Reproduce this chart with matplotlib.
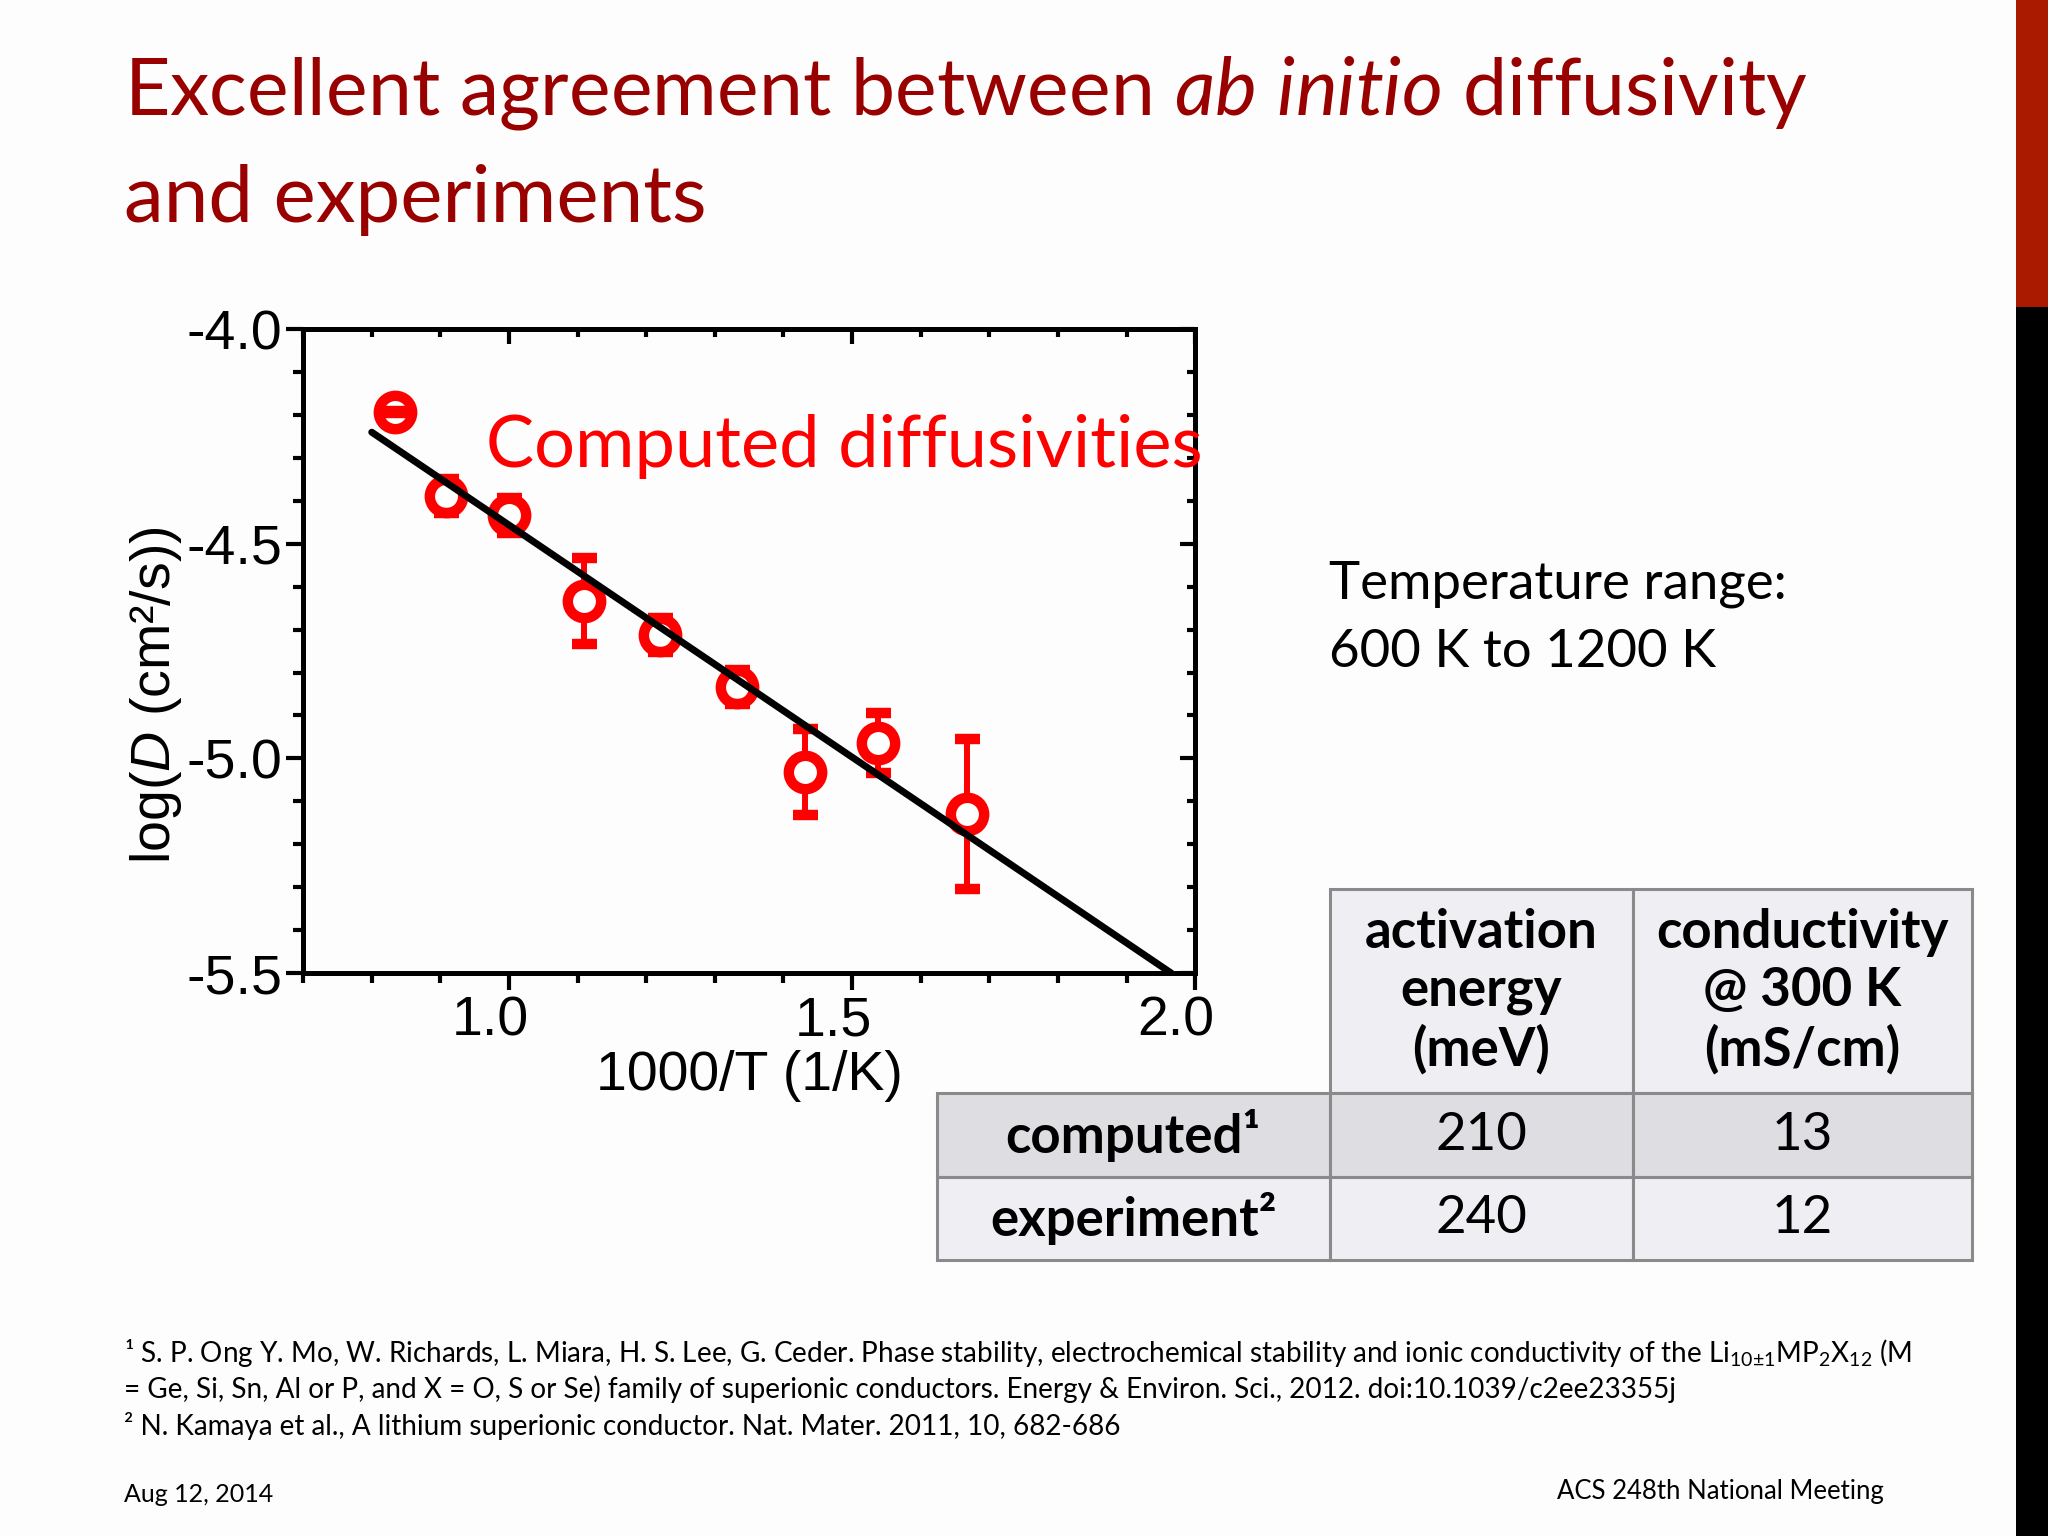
import matplotlib
matplotlib.use('Agg')
import matplotlib.pyplot as plt
from matplotlib.ticker import MultipleLocator, FormatStrFormatter
from matplotlib.patches import Rectangle
from matplotlib.transforms import ScaledTranslation

plt.rcParams['axes.unicode_minus'] = False
plt.rcParams['mathtext.fontset'] = 'custom'
plt.rcParams['mathtext.rm'] = 'Lato'
plt.rcParams['mathtext.it'] = 'Lato:italic'
plt.rcParams['mathtext.bf'] = 'Lato:bold'
plt.rcParams['mathtext.cal'] = 'Liberation Sans:italic'   # italic D in the y label

# values
inv_T = [0.834, 0.908, 1.000, 1.109, 1.220, 1.332, 1.431, 1.538, 1.668]      # 1000/T (1/K)
log_D = [-4.193, -4.388, -4.434, -4.634, -4.713, -4.834, -5.032, -4.965, -5.129]
log_D_err = [0.003, 0.04, 0.04, 0.10, 0.04, 0.04, 0.10, 0.07, 0.175]
fit_x = [0.80, 1.965]
fit_y = [-4.24, -5.50]

col_labels = ['', 'activation\nenergy\n(meV)', 'conductivity\n@ 300 K\n(mS/cm)']
row_labels = ['computed¹', 'experiment²']
act_energy = ['210', '240']
conductivity = ['13', '12']

bg = '#fdfdfd'
fig = plt.figure(figsize=(20.48, 15.36), dpi=100, facecolor=bg)

# ---- Arrhenius plot
ax = fig.add_axes([0.148, 0.3665, 0.4356, 0.4192], facecolor=bg)
line, caps, bars = ax.errorbar(inv_T, log_D, yerr=log_D_err, fmt='o', color='#ff0000',
                               ms=24, mew=7.5, mfc='white', mec='#ff0000',
                               elinewidth=4.3, capsize=9, capthick=4.5, zorder=3)
for c in caps:
    c.set_zorder(3.5)          # caps sit on top of the open circles
ax.plot(fit_x, fit_y, '-', c='black', lw=5, solid_capstyle='round', zorder=4)
ax.text(0.966, -4.32, 'Computed diffusivities', family='Lato', fontsize=52,
        color='#ff0000', va='baseline', ha='left')

ax.set_xlim(0.7, 2.0)
ax.set_ylim(-5.5, -4.0)
ax.xaxis.set_major_locator(MultipleLocator(0.5))
ax.xaxis.set_minor_locator(MultipleLocator(0.1))
ax.yaxis.set_major_locator(MultipleLocator(0.5))
ax.yaxis.set_minor_locator(MultipleLocator(0.1))
ax.xaxis.set_major_formatter(FormatStrFormatter('%.1f'))
ax.yaxis.set_major_formatter(FormatStrFormatter('%.1f'))
for s in ax.spines.values():
    s.set_linewidth(3.6)
ax.tick_params(which='both', direction='out', width=3, labelsize=40)
ax.tick_params(which='major', length=12)
ax.tick_params(which='minor', length=7)
ax.tick_params(axis='x', pad=4)
ax.tick_params(axis='y', pad=3)
shift = ScaledTranslation(-0.19, 0, fig.dpi_scale_trans)
for lab in ax.get_xticklabels():
    lab.set_family('Liberation Sans')
    lab.set_transform(lab.get_transform() + shift)
for lab in ax.get_yticklabels():
    lab.set_family('Liberation Sans')

# top / right ticks point inwards
top = ax.secondary_xaxis('top')
right = ax.secondary_yaxis('right')
for sec, side in [(top, 'top'), (right, 'right')]:
    axis = sec.xaxis if side == 'top' else sec.yaxis
    axis.set_major_locator(MultipleLocator(0.5))
    axis.set_minor_locator(MultipleLocator(0.1))
    sec.tick_params(which='both', direction='in', width=3,
                    labeltop=False, labelright=False)
    sec.tick_params(which='major', length=11)
    sec.tick_params(which='minor', length=6)
    sec.spines[side].set_linewidth(3.6)

ax.set_xlabel('1000/T (1/K)', family='Liberation Sans', fontsize=40, labelpad=2)
ax.set_ylabel('log($\\mathcal{D}$ (cm²/s))', family='Liberation Sans', fontsize=40)
ax.yaxis.set_label_coords(-0.133, 0.432)

# ---- comparison table
tax = fig.add_axes([0.4573, 0.1794, 0.5057, 0.2415])
tax.axis('off')
cell_text = [col_labels] + [[r, a, c] for r, a, c in zip(row_labels, act_energy, conductivity)]
tab = tax.table(cellText=cell_text, cellLoc='center', bbox=[0, 0, 1, 1],
                colWidths=[301, 232, 260])
tab.auto_set_font_size(False)
tab.set_fontsize(38)
row_h = [156, 64, 64]
fills = ['#efeef3', '#dedde2', '#efeef3']
for (r, c), cell in tab.get_celld().items():
    cell.set_height(row_h[r])
    cell.set_edgecolor('#8a8a8a')
    cell.set_linewidth(2.2)
    cell.set_facecolor(fills[r])
    t = cell.get_text()
    t.set_fontfamily('Lato')
    t.set_linespacing(1.22)
    t.set_color('black')
    if r == 0 or c == 0:
        t.set_fontweight('bold')
tab[0, 0].visible_edges = 'open'
tab[0, 0].set_facecolor('none')

# ---- slide text
red = '#990000'
fig.text(0.0606, 0.925, 'Excellent agreement between $\\mathit{ab\\ initio}$ diffusivity',
         family='Lato', fontsize=56.8, color=red, va='baseline')
fig.text(0.0606, 0.8554, 'and experiments', family='Lato', fontsize=57.5, color=red, va='baseline')

fig.text(0.649, 0.6105, 'Temperature range:', family='Lato', fontsize=38, va='baseline')
fig.text(0.649, 0.566, '600 K to 1200 K', family='Lato', fontsize=38, va='baseline')

fn = dict(family='Lato', fontsize=20.1, va='baseline')
fig.text(0.0606, 0.113, '¹ S. P. Ong Y. Mo, W. Richards, L. Miara, H. S. Lee, G. Ceder. Phase stability, '
         'electrochemical stability and ionic conductivity of the Li$_{10±1}$MP$_2$X$_{12}$ (M', **fn)
fig.text(0.0606, 0.090, '= Ge, Si, Sn, Al or P, and X = O, S or Se) family of superionic conductors. '
         'Energy & Environ. Sci., 2012. doi:10.1039/c2ee23355j', **fn)
fig.text(0.0606, 0.066, '² N. Kamaya et al., A lithium superionic conductor. Nat. Mater. 2011, 10, 682-686', **fn)

fig.text(0.0606, 0.022, 'Aug 12, 2014', family='Lato', fontsize=18, va='baseline')
fig.text(0.920, 0.024, 'ACS 248th National Meeting', family='Lato', fontsize=18.5, va='baseline', ha='right')

# side bar of the slide template
fig.add_artist(Rectangle((0.9844, 0.80), 0.0156, 0.20, transform=fig.transFigure,
                         color='#aa1a00', lw=0))
fig.add_artist(Rectangle((0.9844, 0.0), 0.0156, 0.80, transform=fig.transFigure,
                         color='black', lw=0))

fig.savefig('out.png', dpi=100, facecolor=bg)
